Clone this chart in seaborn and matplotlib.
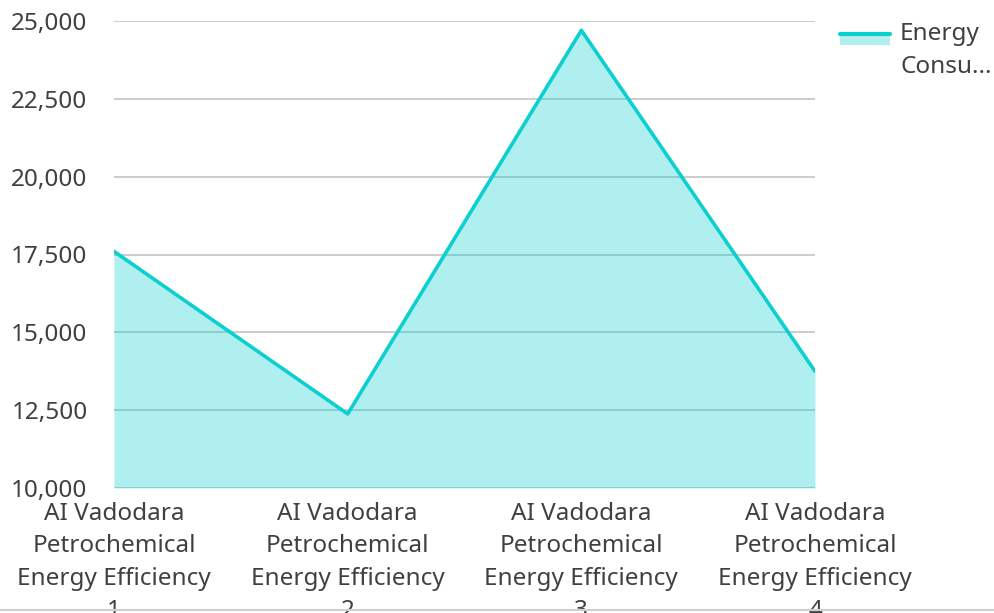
import matplotlib
matplotlib.use("Agg")
import matplotlib.pyplot as plt
from matplotlib.lines import Line2D
from matplotlib.patches import Rectangle
import seaborn as sns
import pandas as pd

categories = [
    "AI Vadodara\nPetrochemical\nEnergy Efficiency\n1",
    "AI Vadodara\nPetrochemical\nEnergy Efficiency\n2",
    "AI Vadodara\nPetrochemical\nEnergy Efficiency\n3",
    "AI Vadodara\nPetrochemical\nEnergy Efficiency\n4",
]
energy_consumption = [17600, 12380, 24700, 13750]
y_ticks = [10000, 12500, 15000, 17500, 20000, 22500, 25000]
series_name = "Energy Consu..."

sns.set_theme(style="white")
plt.rcParams["font.family"] = ["Noto Sans", "DejaVu Sans"]

line_color = "#0ccfcf"
fill_color = "#b2efee"
text_color = "#404040"
fs = 17.5

df = pd.DataFrame({"pos": range(len(categories)), "value": energy_consumption})

fig = plt.figure(figsize=(9.94, 6.13), dpi=100)
ax = fig.add_axes([114 / 994, 1 - 488 / 613, (815 - 114) / 994, (488 - 21) / 613])

for t in y_ticks:
    ax.axhline(t, color="#c8c8c8", lw=1.3, zorder=0)

ax.fill_between(df["pos"], y_ticks[0], df["value"], color=line_color, alpha=0.32, lw=0, zorder=1)
sns.lineplot(data=df, x="pos", y="value", ax=ax, color=line_color, lw=2.6, zorder=2)

ax.set_xlim(0, len(categories) - 1)
ax.set_ylim(y_ticks[0], y_ticks[-1])
ax.set_yticks(y_ticks)
ax.set_yticklabels([f"{t:,}" for t in y_ticks], fontsize=fs, color=text_color)
ax.set_xticks(range(len(categories)))
ax.set_xticklabels(categories, fontsize=fs, color=text_color, linespacing=1.47)
ax.tick_params(axis="y", length=0, pad=19)
ax.tick_params(axis="x", length=0, pad=10)
ax.set_xlabel("")
ax.set_ylabel("")
for s in ax.spines.values():
    s.set_visible(False)

# legend swatch and label
fig.add_artist(Rectangle((840 / 994, 1 - 45 / 613), 50 / 994, 11 / 613,
                         transform=fig.transFigure, color=fill_color, lw=0))
fig.add_artist(Line2D([840 / 994, 890 / 994], [1 - 34 / 613, 1 - 34 / 613],
                      transform=fig.transFigure, color=line_color, lw=3))
fig.text(900 / 994, 1 - 34 / 613, "Energy", fontsize=fs, color=text_color, va="center")
fig.text(900 / 994, 1 - 67 / 613, "Consu...", fontsize=fs, color=text_color, va="center")

# bottom border of the chart frame
fig.add_artist(Line2D([0, 1], [1 - 610 / 613, 1 - 610 / 613],
                      transform=fig.transFigure, color="#d0d0d0", lw=1.5))

fig.savefig("out.png", dpi=100)
